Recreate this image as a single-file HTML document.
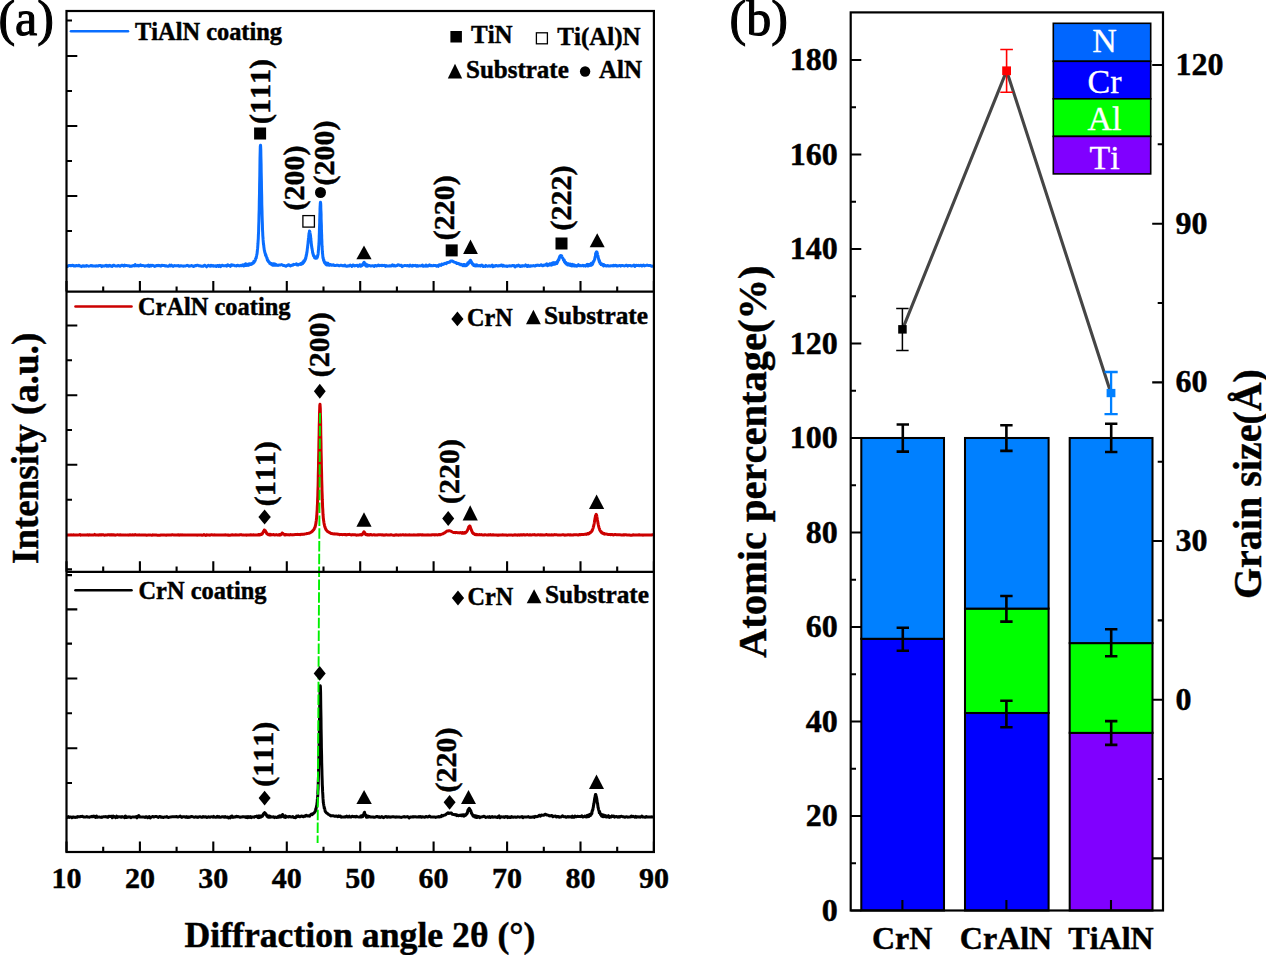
<!DOCTYPE html><html><head><meta charset="utf-8"><style>html,body{margin:0;padding:0;background:#fff;width:1266px;height:955px;overflow:hidden;position:relative}</style></head><body><svg width="1266" height="955" viewBox="0 0 1266 955" style="position:absolute;left:0;top:0;font-kerning:none">
<style>text{stroke:#000;stroke-width:0.45px}text.w{stroke:#fff;stroke-width:0.3px}</style>
<rect width="1266" height="955" fill="#fff"/>
<path d="M66.5,266.3 67.4,266.4 68.3,265.8 69.1,265.5 70.0,265.4 70.9,265.8 71.8,265.4 72.7,265.2 73.5,265.9 74.4,265.8 75.3,266.0 76.2,265.4 77.1,265.8 78.0,265.8 78.8,265.2 79.7,266.0 80.6,265.9 81.5,266.7 82.4,265.9 83.2,265.7 84.1,266.3 85.0,265.9 85.9,266.2 86.8,265.6 87.6,265.9 88.5,266.2 89.4,266.1 90.3,265.8 91.2,265.4 92.1,266.0 92.9,265.8 93.8,266.1 94.7,265.9 95.6,266.2 96.5,265.8 97.3,265.9 98.2,266.1 99.1,265.4 100.0,265.6 100.9,265.6 101.7,266.6 102.6,265.8 103.5,266.0 104.4,266.0 105.3,265.7 106.1,265.2 107.0,266.2 107.9,265.6 108.8,266.1 109.7,265.3 110.6,265.6 111.4,266.3 112.3,266.4 113.2,265.3 114.1,265.3 115.0,265.8 115.8,266.1 116.7,265.9 117.6,265.9 118.5,265.4 119.4,266.0 120.2,266.2 121.1,265.6 122.0,265.2 122.9,265.5 123.8,266.1 124.7,265.1 125.5,265.7 126.4,265.4 127.3,265.7 128.2,265.7 129.1,265.8 129.9,266.4 130.8,266.0 131.7,266.3 132.6,265.7 133.5,265.6 134.3,265.9 135.2,264.6 136.1,265.8 137.0,265.8 137.9,265.3 138.8,266.0 139.6,265.6 140.5,264.8 141.4,265.7 142.3,265.4 143.2,265.6 144.0,265.7 144.9,266.3 145.8,265.8 146.7,265.8 147.6,265.9 148.4,265.1 149.3,266.3 150.2,265.3 151.1,266.0 152.0,265.3 152.8,265.4 153.7,265.6 154.6,266.5 155.5,266.1 156.4,265.5 157.3,265.7 158.1,265.3 159.0,265.8 159.9,265.5 160.8,266.1 161.7,265.2 162.5,265.6 163.4,265.4 164.3,265.5 165.2,266.1 166.1,265.8 166.9,266.0 167.8,266.2 168.7,266.2 169.6,265.2 170.5,266.0 171.4,265.1 172.2,265.7 173.1,266.5 174.0,265.7 174.9,265.6 175.8,265.8 176.6,265.8 177.5,265.8 178.4,265.5 179.3,266.2 180.2,266.1 181.0,265.7 181.9,265.9 182.8,266.0 183.7,266.2 184.6,265.9 185.4,266.0 186.3,265.7 187.2,265.3 188.1,265.6 189.0,266.2 189.9,266.1 190.7,265.8 191.6,265.5 192.5,265.9 193.4,266.4 194.3,266.3 195.1,265.5 196.0,265.7 196.9,265.2 197.8,265.3 198.7,265.8 199.5,265.7 200.4,266.1 201.3,266.2 202.2,266.1 203.1,266.3 204.0,265.5 204.8,265.3 205.7,265.9 206.6,266.8 207.5,265.9 208.4,265.3 209.2,265.8 210.1,266.3 211.0,265.3 211.9,266.0 212.8,265.5 213.6,266.2 214.5,266.0 215.4,265.8 216.3,266.5 217.2,265.5 218.0,265.4 218.9,266.4 219.8,265.3 220.7,266.6 221.6,265.6 222.5,265.2 223.3,265.7 224.2,265.7 225.1,265.7 226.0,265.6 226.9,266.1 227.7,264.7 228.6,265.4 229.5,265.5 230.4,266.3 231.3,264.8 232.1,265.4 233.0,265.1 233.9,265.3 234.8,265.8 235.7,265.7 236.6,266.0 237.4,265.2 238.3,265.5 239.2,265.9 240.1,265.7 241.0,265.2 241.8,265.7 242.7,264.9 243.5,265.9 243.6,265.2 243.7,265.1 243.9,265.3 244.0,265.5 244.2,265.8 244.3,265.1 244.5,265.0 244.6,265.3 244.8,264.7 244.9,264.4 245.1,265.4 245.2,264.9 245.4,265.5 245.5,264.6 245.7,263.8 245.8,265.1 246.0,265.0 246.1,265.6 246.2,265.1 246.4,265.0 246.5,265.1 246.7,264.7 246.8,264.9 247.0,264.3 247.1,265.0 247.3,264.5 247.4,264.6 247.6,265.0 247.7,265.1 247.9,264.3 248.0,265.5 248.2,264.4 248.3,265.0 248.4,265.0 248.6,264.7 248.7,264.6 248.9,265.2 249.0,264.8 249.2,264.6 249.3,263.7 249.5,264.1 249.6,264.8 249.8,264.4 249.9,263.9 250.1,264.0 250.2,264.1 250.4,264.4 250.5,264.2 250.6,264.4 250.8,263.7 250.9,264.3 251.1,263.7 251.2,263.7 251.4,264.4 251.5,263.7 251.7,263.6 251.8,263.5 252.0,263.3 252.1,264.0 252.3,263.9 252.4,263.5 252.6,263.2 252.7,263.5 252.9,262.9 253.0,263.0 253.1,262.9 253.3,262.6 253.4,263.1 253.6,263.0 253.7,262.7 253.9,261.3 254.0,262.6 254.2,262.0 254.3,261.3 254.5,261.3 254.6,261.5 254.8,261.3 254.9,260.9 255.1,260.4 255.2,260.0 255.3,260.1 255.5,259.3 255.6,258.7 255.8,258.4 255.9,258.1 256.1,257.8 256.2,258.1 256.4,256.1 256.5,256.2 256.7,255.2 256.8,254.6 257.0,254.2 257.1,253.2 257.3,251.5 257.4,250.1 257.6,248.4 257.7,247.3 257.8,245.9 258.0,243.2 258.1,241.1 258.3,238.3 258.4,234.8 258.6,231.3 258.7,226.4 258.9,221.0 259.0,215.1 259.2,209.4 259.3,201.5 259.5,193.4 259.6,185.0 259.8,175.2 259.9,167.1 260.0,158.3 260.2,150.9 260.3,146.2 260.5,145.2 260.6,145.6 260.8,149.8 260.9,156.2 261.1,163.8 261.2,172.0 261.4,180.7 261.5,188.6 261.7,196.5 261.8,204.2 262.0,210.3 262.1,215.6 262.3,221.5 262.4,224.4 262.5,229.1 262.7,232.6 262.8,235.6 263.0,237.8 263.1,239.7 263.3,242.0 263.4,243.3 263.6,245.0 263.7,244.9 263.9,247.3 264.0,247.8 264.2,249.4 264.3,250.1 264.5,250.8 264.6,251.0 264.7,252.0 264.9,252.2 265.0,253.0 265.2,253.4 265.3,253.6 265.5,255.2 265.6,255.2 265.8,254.5 265.9,256.1 266.1,255.6 266.2,256.5 266.4,256.8 266.5,257.2 266.7,257.9 266.8,258.0 267.0,257.9 267.1,258.8 267.2,259.3 267.4,260.2 267.5,259.7 267.7,259.7 267.8,260.3 268.0,261.0 268.1,260.6 268.3,260.9 268.4,261.7 268.6,261.7 268.7,262.0 268.9,261.8 269.0,261.9 269.2,262.3 269.3,262.6 269.4,262.6 269.6,263.1 269.7,263.3 269.9,263.4 270.0,263.5 270.2,263.0 270.3,263.1 270.5,263.9 270.6,263.7 270.8,263.8 270.9,263.4 271.1,263.8 271.2,263.7 271.4,263.7 271.5,263.8 271.6,263.5 271.8,264.2 271.9,264.7 272.1,264.0 272.2,264.3 272.4,263.9 272.5,264.6 272.7,265.1 272.8,263.9 273.0,264.4 273.1,265.1 273.3,264.7 273.4,264.6 273.6,263.8 273.7,264.5 273.9,265.0 274.0,265.2 274.1,264.9 274.3,264.5 274.4,264.4 274.6,264.0 274.7,264.3 274.9,265.2 275.0,264.7 275.2,264.3 275.3,265.3 275.5,264.2 275.6,265.3 275.8,264.7 275.9,265.0 276.2,265.2 277.1,265.1 278.0,265.5 278.8,265.1 279.7,265.0 280.6,264.9 281.5,264.6 282.4,264.9 283.3,265.6 284.1,265.5 285.0,265.8 285.9,266.3 286.8,265.5 287.7,265.4 288.5,264.7 289.4,265.1 290.3,266.0 291.2,265.4 292.1,265.1 292.9,265.2 293.8,264.3 294.7,264.6 295.6,264.4 296.5,263.9 297.3,265.0 298.2,264.9 299.1,264.3 300.0,264.3 300.7,263.5 300.8,264.1 300.9,264.2 300.9,264.5 301.0,264.4 301.1,264.0 301.2,263.7 301.2,263.4 301.3,263.4 301.4,263.9 301.5,263.9 301.5,263.6 301.6,264.2 301.7,263.8 301.8,263.5 301.8,263.4 301.9,263.4 302.0,263.0 302.0,262.9 302.1,263.4 302.2,263.0 302.3,263.1 302.3,263.7 302.4,263.0 302.5,263.6 302.6,263.0 302.6,263.6 302.7,263.1 302.8,262.2 302.9,263.3 302.9,262.7 303.0,261.9 303.1,262.7 303.1,262.6 303.2,262.0 303.3,262.2 303.4,262.6 303.4,262.9 303.5,262.7 303.6,262.7 303.7,262.5 303.7,261.0 303.8,261.6 303.9,261.9 304.0,260.7 304.0,262.0 304.1,261.9 304.2,261.1 304.3,261.2 304.3,260.9 304.4,261.1 304.5,261.0 304.5,260.9 304.6,260.4 304.7,260.8 304.8,260.4 304.8,260.7 304.9,260.3 305.0,259.5 305.1,259.3 305.1,259.7 305.2,259.3 305.3,259.5 305.4,259.5 305.4,259.0 305.5,258.1 305.6,258.0 305.6,258.5 305.7,257.6 305.8,258.3 305.9,257.5 305.9,257.5 306.0,256.6 306.1,256.7 306.2,255.2 306.2,256.0 306.3,256.0 306.4,255.0 306.5,254.7 306.5,254.6 306.6,254.3 306.7,253.5 306.7,253.7 306.8,252.3 306.9,252.9 307.0,251.5 307.0,251.2 307.1,251.5 307.2,250.1 307.3,249.3 307.3,249.4 307.4,248.4 307.5,247.7 307.6,247.3 307.6,246.6 307.7,245.9 307.8,245.2 307.8,245.6 307.9,244.0 308.0,243.9 308.1,242.3 308.1,242.3 308.2,240.9 308.3,240.5 308.4,240.2 308.4,239.0 308.5,237.7 308.6,237.6 308.7,237.0 308.7,236.7 308.8,235.4 308.9,235.1 308.9,234.6 309.0,233.4 309.1,233.5 309.2,232.8 309.2,232.9 309.3,232.4 309.4,232.1 309.5,231.0 309.5,231.8 309.6,231.7 309.7,231.4 309.8,231.7 309.8,231.5 309.9,232.3 310.0,232.8 310.1,233.1 310.1,233.0 310.2,234.4 310.3,234.5 310.3,234.3 310.4,235.2 310.5,235.2 310.6,236.4 310.6,237.4 310.7,238.3 310.8,238.3 310.9,238.4 310.9,239.7 311.0,241.0 311.1,241.2 311.2,242.3 311.2,242.8 311.3,243.7 311.4,244.0 311.4,244.1 311.5,245.2 311.6,246.6 311.7,246.0 311.7,246.0 311.8,248.1 311.9,248.0 312.0,248.1 312.0,248.6 312.1,248.7 312.2,250.0 312.3,250.2 312.3,250.4 312.4,250.8 312.5,251.2 312.5,252.2 312.6,252.1 312.7,253.0 312.8,252.5 312.8,252.9 312.9,253.2 313.0,253.5 313.1,253.9 313.1,254.6 313.2,254.9 313.3,254.3 313.4,255.4 313.4,255.1 313.5,255.9 313.6,255.4 313.6,255.3 313.7,256.1 313.8,256.2 313.9,256.0 313.9,256.3 314.0,256.5 314.1,256.7 314.2,256.0 314.2,256.3 314.3,256.9 314.4,257.1 314.5,256.8 314.5,256.4 314.6,257.8 314.7,257.2 314.7,257.0 314.8,258.1 314.9,258.0 315.0,258.0 315.0,257.9 315.1,257.9 315.2,257.3 315.3,257.7 315.3,257.9 315.4,258.1 315.5,258.0 315.6,257.4 315.6,257.6 315.7,257.8 315.8,257.8 315.9,257.6 315.9,257.2 316.0,257.4 316.1,258.0 316.1,257.9 316.2,258.1 316.3,257.1 316.4,257.7 316.4,258.2 316.5,257.0 316.6,257.3 316.7,257.0 316.7,258.1 316.8,257.6 316.9,257.3 317.0,257.5 317.0,257.3 317.1,257.6 317.2,257.6 317.2,257.4 317.3,257.0 317.4,257.0 317.5,256.8 317.5,256.8 317.6,255.4 317.7,256.0 317.8,255.6 317.8,255.4 317.9,254.9 318.0,254.6 318.1,254.4 318.1,253.8 318.2,253.2 318.3,252.2 318.3,251.4 318.4,250.9 318.5,249.7 318.6,249.3 318.6,248.2 318.7,246.7 318.8,245.5 318.9,244.7 318.9,243.3 319.0,242.8 319.1,240.6 319.2,238.1 319.2,236.3 319.3,234.0 319.4,231.9 319.4,229.8 319.5,227.5 319.6,224.7 319.7,222.7 319.7,220.0 319.8,217.8 319.9,213.9 320.0,212.2 320.0,209.4 320.1,206.7 320.2,205.3 320.3,203.2 320.3,202.7 320.4,203.1 320.5,202.3 320.6,202.8 320.6,203.3 320.7,203.5 320.8,205.9 320.8,207.8 320.9,210.2 321.0,212.0 321.1,214.3 321.1,218.6 321.2,221.0 321.3,223.3 321.4,225.7 321.4,228.6 321.5,230.5 321.6,233.8 321.7,235.7 321.7,237.8 321.8,239.7 321.9,241.7 321.9,243.6 322.0,245.0 322.1,247.0 322.2,248.1 322.2,249.3 322.3,250.1 322.4,252.0 322.5,253.0 322.5,253.7 322.6,253.5 322.7,254.8 322.8,256.0 322.8,256.2 322.9,257.3 323.0,257.1 323.0,258.0 323.1,258.3 323.2,257.5 323.3,258.7 323.3,259.1 323.4,259.2 323.5,259.4 323.6,260.6 323.6,260.2 323.7,260.7 323.8,260.1 323.9,260.0 323.9,260.8 324.0,261.3 324.1,261.0 324.1,261.7 324.2,261.9 324.3,261.6 324.4,261.8 324.4,261.7 324.5,262.5 324.6,262.9 324.7,262.5 324.7,262.2 324.8,262.2 324.9,262.5 325.0,263.0 325.1,262.5 325.2,263.6 325.4,262.6 325.5,263.2 325.7,263.9 325.8,264.2 326.0,263.4 326.1,264.0 326.3,264.8 326.4,264.3 326.6,263.0 326.7,264.1 326.9,265.0 327.0,263.6 327.2,264.5 327.3,263.4 327.5,264.9 327.6,264.0 327.7,264.7 327.9,264.8 328.0,263.3 328.2,263.9 328.3,264.7 328.5,264.0 328.6,264.6 328.8,264.3 328.9,265.2 329.1,264.5 329.2,264.4 329.4,265.0 329.5,265.3 329.7,264.7 329.8,264.9 329.9,265.0 330.1,264.7 330.8,264.5 331.7,265.3 332.6,265.0 333.5,264.7 334.4,265.6 335.2,265.5 336.1,265.4 337.0,265.1 337.9,265.3 338.8,265.7 339.6,265.7 340.5,265.2 341.4,265.2 342.3,265.7 343.2,265.6 344.0,265.9 344.9,265.1 345.8,266.0 346.7,266.3 347.6,266.0 348.5,265.7 349.3,266.0 350.2,265.1 351.1,265.5 352.0,266.5 352.9,265.0 353.7,265.2 354.6,266.0 355.5,265.4 356.4,265.4 357.3,265.2 358.1,266.3 359.0,265.4 359.6,265.5 359.8,264.9 359.9,265.9 360.1,265.6 360.2,265.8 360.3,266.2 360.5,265.6 360.6,265.1 360.8,265.2 360.9,265.6 361.1,266.1 361.2,265.0 361.4,265.4 361.5,265.4 361.7,265.7 361.8,265.0 362.0,265.4 362.1,265.5 362.3,265.1 362.4,265.0 362.5,265.1 362.7,265.0 362.8,265.0 363.0,263.9 363.1,264.6 363.3,263.8 363.4,263.2 363.6,263.3 363.7,262.8 363.9,263.2 364.0,263.6 364.2,262.3 364.3,262.9 364.5,263.8 364.6,263.6 364.8,264.2 364.9,263.6 365.0,264.3 365.2,263.5 365.3,264.4 365.5,265.2 365.6,265.5 365.8,265.8 365.9,265.2 366.1,265.0 366.2,265.2 366.4,264.7 366.5,266.0 366.7,266.0 366.8,265.2 367.0,266.3 367.1,265.0 367.2,265.8 367.4,265.3 367.5,264.9 367.7,265.8 367.8,265.2 368.0,266.1 368.1,265.3 368.3,265.7 368.4,265.5 368.7,265.7 369.6,265.4 370.5,266.0 371.4,265.9 372.2,265.7 373.1,265.7 374.0,266.5 374.9,265.4 375.8,265.5 376.6,266.0 377.5,265.7 378.4,265.1 379.3,265.7 380.2,265.6 381.1,265.3 381.9,265.8 382.8,265.3 383.7,265.6 384.6,265.3 385.5,266.4 386.3,265.6 387.2,265.9 388.1,265.9 389.0,266.0 389.9,265.7 390.7,266.1 391.6,265.8 392.5,264.8 393.4,265.9 394.3,265.2 395.2,266.1 396.0,265.8 396.9,265.6 397.8,264.7 398.7,264.9 399.6,265.3 400.4,265.6 401.3,265.2 402.2,266.6 403.1,265.9 404.0,265.7 404.8,265.4 405.7,265.6 406.6,265.7 407.5,265.6 408.4,265.7 409.2,266.1 410.1,265.1 411.0,265.9 411.9,266.2 412.8,265.2 413.7,265.7 414.5,265.6 415.4,265.3 416.3,266.1 417.2,265.6 418.1,266.2 418.9,265.9 419.8,265.7 420.7,265.9 421.6,265.6 422.5,265.1 423.3,266.3 424.2,265.9 425.1,266.2 426.0,265.0 426.9,266.2 427.8,266.1 428.6,265.8 429.5,264.9 430.4,265.8 431.3,265.5 432.2,265.7 433.0,265.8 433.9,265.3 434.8,265.6 435.7,265.6 436.6,266.2 437.4,265.5 438.3,266.3 439.2,264.8 440.1,265.0 441.0,265.4 441.8,264.0 442.7,264.6 443.6,264.2 444.5,263.5 445.4,263.3 446.3,263.7 447.1,262.5 448.0,262.5 448.9,262.3 449.8,262.3 450.7,260.9 451.5,261.0 452.4,261.1 453.3,261.6 454.2,262.1 455.1,262.5 455.9,262.4 456.8,263.5 457.7,263.2 458.6,263.9 459.5,263.7 460.4,264.7 461.2,264.3 462.1,265.3 462.8,265.3 463.0,265.8 463.1,264.9 463.3,264.6 463.4,265.4 463.6,265.2 463.7,264.9 463.9,264.6 464.0,265.5 464.2,264.4 464.3,265.0 464.5,265.6 464.6,265.1 464.8,265.4 464.9,265.4 465.1,265.5 465.2,265.6 465.3,265.5 465.5,265.0 465.6,264.7 465.8,265.1 465.9,264.9 466.1,265.3 466.2,265.6 466.4,265.4 466.5,264.7 466.7,265.0 466.8,264.9 467.0,264.6 467.1,265.2 467.3,264.8 467.4,264.6 467.5,263.8 467.7,263.1 467.8,263.7 468.0,264.2 468.1,263.5 468.3,263.3 468.4,263.0 468.6,263.1 468.7,262.6 468.9,263.1 469.0,262.1 469.2,261.8 469.3,262.2 469.5,261.7 469.6,261.5 469.8,261.2 469.9,260.9 470.0,261.0 470.2,261.0 470.3,260.9 470.5,260.2 470.6,261.6 470.8,261.0 470.9,261.2 471.1,261.5 471.2,261.6 471.4,261.8 471.5,262.4 471.7,263.0 471.8,262.8 472.0,263.4 472.1,262.9 472.2,263.9 472.4,263.4 472.5,264.3 472.7,263.9 472.8,264.1 473.0,264.0 473.1,264.2 473.3,264.7 473.4,264.5 473.6,264.9 473.7,265.5 473.9,264.8 474.0,265.1 474.2,265.2 474.3,265.0 474.4,265.3 474.6,265.5 474.7,265.8 474.9,265.1 475.0,265.4 475.2,265.4 475.3,266.0 475.5,265.1 475.6,265.6 475.8,265.8 475.9,265.8 476.1,265.3 476.2,265.2 476.4,264.8 476.5,265.4 476.7,265.5 476.8,265.0 476.9,265.9 477.1,265.7 477.2,265.5 477.4,265.4 477.5,265.8 478.0,265.5 478.9,265.9 479.7,265.5 480.6,266.1 481.5,265.1 482.4,265.3 483.3,266.5 484.1,266.2 485.0,266.4 485.9,265.4 486.8,266.0 487.7,266.2 488.5,266.1 489.4,265.7 490.3,266.3 491.2,265.9 492.1,265.2 493.0,266.8 493.8,265.8 494.7,266.3 495.6,265.5 496.5,265.4 497.4,266.1 498.2,266.1 499.1,265.5 500.0,265.9 500.9,265.2 501.8,264.9 502.6,266.2 503.5,265.3 504.4,266.1 505.3,266.2 506.2,265.9 507.1,266.4 507.9,265.9 508.8,265.9 509.7,265.8 510.6,265.9 511.5,265.9 512.3,265.4 513.2,265.7 514.1,265.6 515.0,266.9 515.9,266.3 516.7,265.5 517.6,266.0 518.5,265.1 519.4,265.8 520.3,266.5 521.1,265.8 522.0,266.3 522.9,265.6 523.8,265.9 524.7,265.9 525.6,264.9 526.4,265.4 527.3,266.5 528.2,265.4 529.1,266.2 530.0,266.4 530.8,265.7 531.7,266.1 532.6,265.9 533.5,265.5 534.4,265.9 535.2,265.9 536.1,265.3 537.0,265.5 537.9,265.1 538.8,265.5 539.7,265.5 540.5,265.1 541.4,264.7 542.3,265.7 543.2,265.8 544.1,264.9 544.9,265.2 545.8,264.8 546.7,263.9 547.5,265.7 547.6,264.9 547.7,264.2 547.8,265.3 547.9,265.1 548.1,265.3 548.2,265.0 548.4,264.9 548.5,265.3 548.5,264.6 548.7,264.8 548.8,264.2 549.0,264.2 549.1,264.7 549.3,264.7 549.3,263.9 549.4,264.7 549.6,264.9 549.7,264.0 549.9,264.3 550.0,265.1 550.2,264.1 550.2,264.6 550.3,264.7 550.4,264.5 550.6,264.4 550.7,264.6 550.9,264.4 551.0,264.3 551.1,263.7 551.2,264.4 551.3,263.9 551.5,264.8 551.6,265.1 551.8,264.6 551.9,263.3 552.0,264.5 552.1,264.2 552.2,263.6 552.4,263.6 552.5,264.5 552.6,263.7 552.8,263.9 552.9,264.0 552.9,264.3 553.1,262.8 553.2,264.4 553.4,263.5 553.5,263.7 553.7,264.0 553.7,263.9 553.8,262.8 554.0,264.0 554.1,263.6 554.3,263.2 554.4,263.4 554.6,262.9 554.6,263.9 554.7,264.1 554.8,263.2 555.0,263.3 555.1,262.8 555.3,263.1 555.4,262.9 555.5,263.3 555.6,263.9 555.7,263.6 555.9,263.5 556.0,262.6 556.2,263.3 556.3,262.6 556.4,262.4 556.5,263.0 556.6,262.6 556.8,263.5 556.9,262.4 557.1,262.1 557.2,262.4 557.3,261.5 557.3,262.2 557.5,262.3 557.6,261.4 557.8,261.1 557.9,261.5 558.1,260.3 558.2,260.8 558.2,260.3 558.4,260.3 558.5,259.6 558.7,259.8 558.8,259.5 559.0,259.6 559.0,258.6 559.1,258.7 559.3,257.5 559.4,257.5 559.5,257.6 559.7,256.6 559.8,256.8 559.9,256.3 560.0,256.7 560.1,256.5 560.3,255.9 560.4,256.2 560.6,255.6 560.7,255.8 560.8,256.0 560.9,256.1 561.0,256.1 561.2,256.7 561.3,255.9 561.5,256.2 561.6,255.7 561.7,256.9 561.8,256.2 561.9,256.6 562.0,256.9 562.2,257.5 562.3,257.5 562.5,257.7 562.6,258.0 562.6,258.0 562.8,258.4 562.9,258.3 563.1,258.7 563.2,258.7 563.4,259.8 563.4,260.0 563.5,260.0 563.7,260.1 563.8,260.0 564.0,260.7 564.1,260.1 564.2,259.9 564.3,260.6 564.4,261.8 564.5,261.5 564.7,262.2 564.8,261.5 565.0,262.4 565.1,262.8 565.2,262.6 565.3,262.4 565.4,262.9 565.6,262.5 565.7,263.5 565.9,262.5 566.0,262.8 566.1,263.1 566.2,262.9 566.3,264.0 566.5,263.7 566.6,263.2 566.7,264.3 566.9,264.3 567.0,263.6 567.0,264.4 567.2,264.4 567.3,263.8 567.5,263.8 567.6,264.3 567.8,264.7 567.8,264.9 567.9,264.9 568.1,264.1 568.2,263.7 568.4,263.8 568.5,265.1 568.7,265.0 568.7,265.0 568.8,264.6 568.9,264.7 569.1,264.9 569.2,264.9 569.4,264.8 569.5,264.4 569.6,264.2 569.7,264.9 569.8,264.8 570.0,265.4 570.1,264.5 570.3,264.1 570.4,264.2 570.5,264.9 570.6,265.6 570.7,264.9 570.9,264.7 571.0,265.2 571.2,265.7 571.3,265.5 571.4,265.4 571.4,265.5 571.6,265.0 571.7,265.2 571.9,265.3 572.0,265.9 572.2,264.3 572.3,265.0 572.3,265.3 572.5,265.1 572.6,265.2 572.8,265.1 572.9,264.9 573.1,265.5 573.1,265.8 573.2,265.1 573.4,265.5 573.5,265.7 573.6,265.0 573.8,265.3 573.9,264.8 574.0,266.0 574.9,266.1 575.8,265.3 576.7,266.2 577.5,265.8 578.4,264.7 579.3,265.7 580.2,265.6 581.1,265.7 581.9,265.7 582.8,265.3 583.7,265.9 584.6,265.5 585.5,266.1 586.3,265.3 587.2,264.3 588.1,266.0 588.4,265.4 588.6,264.4 588.7,264.9 588.8,264.8 589.0,265.5 589.1,264.8 589.3,265.5 589.4,264.8 589.6,265.4 589.7,264.7 589.9,264.4 590.0,265.1 590.2,264.8 590.3,265.0 590.5,264.1 590.6,264.3 590.8,264.5 590.9,265.4 591.0,264.7 591.2,263.8 591.3,263.2 591.5,265.1 591.6,264.4 591.8,263.7 591.9,264.5 592.1,264.3 592.2,264.7 592.4,263.8 592.5,263.4 592.7,263.8 592.8,262.7 593.0,262.9 593.1,262.4 593.3,262.3 593.4,261.8 593.5,261.4 593.7,261.2 593.8,261.5 594.0,260.9 594.1,260.5 594.3,260.2 594.4,259.8 594.6,259.2 594.7,259.3 594.9,258.0 595.0,257.4 595.2,256.5 595.3,256.5 595.5,256.0 595.6,253.6 595.7,254.6 595.9,253.3 596.0,253.4 596.2,252.9 596.3,252.0 596.5,251.8 596.6,252.2 596.8,253.4 596.9,252.0 597.1,252.7 597.2,253.1 597.4,253.6 597.5,254.7 597.7,255.7 597.8,255.4 598.0,256.2 598.1,256.6 598.2,257.9 598.4,257.9 598.5,258.8 598.7,259.0 598.8,260.0 599.0,260.0 599.1,260.2 599.3,261.7 599.4,260.5 599.6,261.7 599.7,261.9 599.9,261.9 600.0,263.4 600.2,263.0 600.3,262.9 600.4,262.9 600.6,263.6 600.7,263.6 600.9,263.7 601.0,263.6 601.2,264.6 601.3,264.2 601.5,264.2 601.6,263.8 601.8,264.1 601.9,264.8 602.1,264.2 602.2,264.9 602.4,264.6 602.5,264.9 602.6,264.9 602.8,264.6 602.9,264.7 603.1,264.9 603.2,265.2 603.4,265.9 603.5,265.3 603.7,264.5 603.8,265.9 604.0,265.0 604.1,264.8 604.3,265.2 604.4,265.1 604.6,265.3 604.7,265.2 604.9,265.2 605.7,265.8 606.6,266.1 607.5,265.5 608.4,266.1 609.3,265.9 610.1,266.0 611.0,265.7 611.9,265.7 612.8,265.9 613.7,265.3 614.5,265.7 615.4,265.2 616.3,266.0 617.2,265.8 618.1,265.9 618.9,265.6 619.8,265.4 620.7,266.1 621.6,265.5 622.5,265.6 623.4,265.7 624.2,265.9 625.1,265.8 626.0,265.3 626.9,265.3 627.8,266.1 628.6,265.6 629.5,265.6 630.4,265.4 631.3,266.1 632.2,265.9 633.0,265.5 633.9,265.1 634.8,266.5 635.7,265.5 636.6,265.3 637.5,265.6 638.3,265.3 639.2,265.8 640.1,265.5 641.0,265.3 641.9,266.0 642.7,265.4 643.6,265.0 644.5,265.9 645.4,265.6 646.3,265.3 647.1,265.1 648.0,265.5 648.9,265.5 649.8,265.6 650.7,265.6 651.6,266.3 652.4,266.2 653.3,265.9" fill="none" stroke="#0A6EFF" stroke-width="3.0" stroke-linejoin="round"/>
<path d="M66.5,535.3 67.4,534.9 68.3,535.1 69.1,535.0 70.0,535.1 70.9,534.8 71.8,534.9 72.7,534.9 73.5,534.8 74.4,534.9 75.3,534.9 76.2,535.0 77.1,534.9 78.0,535.1 78.8,534.9 79.7,534.5 80.6,535.2 81.5,534.9 82.4,534.9 83.2,535.0 84.1,535.0 85.0,535.0 85.9,534.9 86.8,535.0 87.6,534.8 88.5,535.2 89.4,534.8 90.3,535.0 91.2,535.0 92.1,535.0 92.9,535.0 93.8,535.1 94.7,534.4 95.6,535.0 96.5,535.0 97.3,534.9 98.2,535.2 99.1,534.8 100.0,535.0 100.9,534.7 101.7,535.0 102.6,534.7 103.5,534.7 104.4,535.3 105.3,535.1 106.1,535.0 107.0,535.0 107.9,534.8 108.8,534.8 109.7,535.0 110.6,534.7 111.4,535.0 112.3,534.7 113.2,535.0 114.1,534.8 115.0,535.2 115.8,535.1 116.7,534.9 117.6,534.7 118.5,534.9 119.4,535.0 120.2,534.8 121.1,535.0 122.0,535.1 122.9,535.0 123.8,534.9 124.7,535.1 125.5,534.9 126.4,535.1 127.3,534.9 128.2,535.2 129.1,534.9 129.9,534.8 130.8,535.0 131.7,534.9 132.6,534.8 133.5,535.0 134.3,535.1 135.2,534.6 136.1,535.0 137.0,534.9 137.9,535.0 138.8,535.1 139.6,534.8 140.5,535.1 141.4,534.9 142.3,535.0 143.2,534.9 144.0,534.9 144.9,534.9 145.8,535.0 146.7,535.3 147.6,535.1 148.4,535.1 149.3,535.1 150.2,534.9 151.1,535.1 152.0,535.3 152.8,534.8 153.7,535.1 154.6,535.1 155.5,535.0 156.4,535.1 157.3,535.2 158.1,535.3 159.0,535.2 159.9,535.2 160.8,535.0 161.7,535.1 162.5,535.0 163.4,535.0 164.3,534.9 165.2,535.1 166.1,535.2 166.9,535.0 167.8,535.0 168.7,535.1 169.6,535.0 170.5,535.1 171.4,535.0 172.2,534.8 173.1,534.8 174.0,535.1 174.9,535.1 175.8,535.1 176.6,535.0 177.5,535.0 178.4,534.7 179.3,535.2 180.2,534.8 181.0,535.1 181.9,534.8 182.8,534.9 183.7,535.0 184.6,534.9 185.4,534.9 186.3,535.1 187.2,535.1 188.1,535.0 189.0,534.9 189.9,534.9 190.7,534.9 191.6,534.9 192.5,535.0 193.4,535.1 194.3,535.0 195.1,534.9 196.0,534.9 196.9,535.2 197.8,535.0 198.7,535.0 199.5,535.0 200.4,535.1 201.3,535.0 202.2,535.2 203.1,535.1 204.0,534.6 204.8,535.0 205.7,535.4 206.6,534.8 207.5,535.0 208.4,535.1 209.2,535.0 210.1,535.2 211.0,534.8 211.9,534.8 212.8,534.9 213.6,534.9 214.5,534.8 215.4,535.1 216.3,535.0 217.2,535.0 218.0,534.9 218.9,535.0 219.8,535.0 220.7,534.9 221.6,535.0 222.5,535.0 223.3,535.0 224.2,535.1 225.1,534.8 226.0,534.9 226.9,534.9 227.7,535.2 228.6,535.0 229.5,535.3 230.4,535.2 231.3,534.9 232.1,534.8 233.0,535.0 233.9,534.9 234.8,534.9 235.7,534.8 236.6,535.0 237.4,535.0 238.3,535.0 239.2,535.0 240.1,534.8 241.0,534.6 241.8,534.9 242.7,534.9 243.6,534.9 244.5,535.1 245.4,534.9 246.2,535.2 247.1,535.0 248.0,535.0 248.9,535.0 249.8,535.0 250.6,534.7 251.5,535.1 252.4,534.9 253.3,534.8 254.2,535.0 255.1,534.9 255.9,535.1 256.8,535.0 257.7,534.9 258.1,534.6 258.3,535.0 258.4,535.0 258.6,534.9 258.7,534.8 258.9,534.9 259.0,534.6 259.2,534.9 259.3,534.7 259.5,534.6 259.6,534.8 259.8,534.7 259.9,534.9 260.0,534.8 260.2,534.4 260.3,534.3 260.5,534.6 260.6,534.5 260.8,534.4 260.9,534.3 261.1,534.4 261.2,534.2 261.4,534.2 261.5,534.4 261.7,534.2 261.8,533.9 262.0,533.8 262.1,533.8 262.3,533.9 262.4,533.4 262.5,533.5 262.7,532.9 262.8,532.8 263.0,532.7 263.1,532.2 263.3,532.0 263.4,531.5 263.6,531.6 263.7,531.4 263.9,530.8 264.0,530.7 264.2,530.4 264.3,530.0 264.5,530.6 264.6,530.3 264.7,530.4 264.9,530.4 265.0,530.5 265.2,531.0 265.3,530.6 265.5,531.1 265.6,531.4 265.8,531.7 265.9,532.1 266.1,532.2 266.2,532.4 266.4,532.6 266.5,533.1 266.7,533.4 266.8,533.6 267.0,533.9 267.1,533.7 267.2,534.1 267.4,534.1 267.5,534.1 267.7,534.1 267.8,534.4 268.0,534.3 268.1,534.4 268.3,534.3 268.4,534.8 268.6,534.5 268.7,534.5 268.9,534.6 269.0,534.6 269.2,534.6 269.3,534.4 269.4,534.5 269.6,534.8 269.7,534.9 269.9,534.6 270.0,534.7 270.2,534.6 270.3,534.4 270.5,534.7 270.6,534.6 270.8,534.9 270.9,534.7 271.1,534.8 271.8,534.6 272.7,534.8 273.6,534.5 274.4,534.9 275.3,535.0 276.2,534.6 277.1,534.9 278.0,535.0 278.8,534.8 279.0,535.0 279.1,534.8 279.3,534.7 279.4,534.5 279.6,534.6 279.7,534.5 279.9,535.1 280.0,534.8 280.2,534.7 280.3,534.5 280.5,534.9 280.6,534.4 280.8,534.8 280.9,534.7 281.0,534.4 281.2,534.2 281.3,534.2 281.5,533.8 281.6,533.9 281.8,533.9 281.9,533.6 282.1,533.5 282.2,533.1 282.4,533.2 282.5,533.1 282.7,533.3 282.8,533.6 283.0,534.0 283.1,533.8 283.3,534.0 283.4,533.9 283.5,534.3 283.7,534.3 283.8,534.3 284.0,534.3 284.1,534.6 284.3,534.6 284.4,534.8 284.6,534.7 284.7,534.7 284.9,534.9 285.0,534.8 285.2,534.8 285.3,535.0 285.5,534.8 285.6,534.6 285.7,534.6 285.9,534.5 286.8,534.8 287.7,534.7 288.5,534.8 289.4,534.9 290.3,534.6 291.2,534.7 292.1,534.9 292.9,534.7 293.8,534.8 294.7,534.6 295.6,534.5 296.5,534.6 297.3,534.3 298.2,534.6 299.1,534.4 300.0,534.7 300.9,534.2 301.8,534.4 302.6,534.3 303.5,534.2 304.4,534.2 305.3,533.9 306.2,533.7 307.0,533.5 307.9,533.4 308.8,533.2 309.7,533.0 310.6,532.5 311.4,532.0 312.3,531.3 313.2,530.2 313.8,529.6 313.9,529.4 314.1,528.9 314.2,528.8 314.4,528.6 314.5,528.1 314.7,527.8 314.8,527.4 315.0,527.4 315.1,526.8 315.3,526.2 315.4,525.4 315.6,525.0 315.7,524.2 315.9,523.5 316.0,522.5 316.1,521.7 316.3,520.4 316.4,519.3 316.6,518.1 316.7,516.0 316.9,514.1 317.0,512.2 317.2,509.7 317.3,506.6 317.5,503.5 317.6,499.7 317.8,495.5 317.9,490.9 318.1,485.3 318.2,479.7 318.3,473.2 318.5,466.1 318.6,458.9 318.8,450.8 318.9,442.8 319.1,435.1 319.2,426.9 319.4,420.1 319.5,413.7 319.7,408.6 319.8,405.4 320.0,404.2 320.1,405.6 320.3,408.4 320.4,413.8 320.6,419.6 320.7,427.1 320.8,434.5 321.0,442.9 321.1,451.2 321.3,458.7 321.4,466.1 321.6,473.1 321.7,479.6 321.9,485.5 322.0,490.7 322.2,495.1 322.3,499.7 322.5,503.6 322.6,507.0 322.8,509.6 322.9,512.1 323.0,514.2 323.2,516.3 323.3,518.1 323.5,519.1 323.6,520.5 323.8,521.5 323.9,522.5 324.1,523.4 324.2,524.3 324.4,524.8 324.5,525.5 324.7,526.3 324.8,526.6 325.0,527.1 325.1,527.5 325.2,527.8 325.4,528.2 325.5,528.6 325.7,528.8 325.8,529.3 326.0,529.4 326.1,529.8 326.4,530.1 327.3,531.2 328.2,531.8 329.1,532.4 329.9,532.7 330.8,533.4 331.7,533.5 332.6,533.7 333.5,533.9 334.4,533.8 335.2,534.1 336.1,534.1 337.0,534.0 337.9,534.3 338.8,534.2 339.6,534.7 340.5,534.4 341.4,534.4 342.3,534.7 343.2,534.6 344.0,534.4 344.9,534.7 345.8,534.5 346.7,534.9 347.6,534.5 348.5,534.6 349.3,534.3 350.2,534.6 351.1,535.0 352.0,534.8 352.9,534.6 353.7,534.8 354.6,534.8 355.5,534.8 356.4,535.2 357.3,535.1 358.1,535.0 359.0,535.0 359.9,534.6 360.1,534.5 360.2,534.9 360.3,534.8 360.5,534.8 360.6,534.7 360.8,534.8 360.9,534.8 361.1,534.7 361.2,534.8 361.4,534.6 361.5,534.6 361.7,534.8 361.8,534.5 362.0,534.8 362.1,534.5 362.3,534.3 362.4,534.4 362.5,534.0 362.7,533.8 362.8,533.6 363.0,533.4 363.1,533.3 363.3,533.2 363.4,532.7 363.6,532.2 363.7,532.1 363.9,531.8 364.0,532.1 364.2,532.2 364.3,532.2 364.5,532.5 364.6,532.7 364.8,533.0 364.9,533.3 365.0,533.5 365.2,533.5 365.3,534.0 365.5,534.3 365.6,534.0 365.8,534.3 365.9,534.3 366.1,534.6 366.2,534.5 366.4,534.8 366.5,534.8 366.7,534.6 366.8,534.6 367.0,534.6 367.1,534.8 367.2,534.6 367.4,534.8 367.5,534.6 367.7,535.0 367.8,534.9 368.0,534.6 368.1,534.7 368.7,534.9 369.6,534.9 370.5,534.4 371.4,534.9 372.2,535.1 373.1,534.8 374.0,534.7 374.9,535.1 375.8,534.9 376.6,534.9 377.5,535.0 378.4,534.7 379.3,534.8 380.2,534.8 381.1,534.8 381.9,534.9 382.8,534.8 383.7,535.2 384.6,535.0 385.5,535.1 386.3,534.7 387.2,534.9 388.1,534.9 389.0,535.0 389.9,535.0 390.7,534.8 391.6,534.8 392.5,535.1 393.4,535.3 394.3,535.3 395.2,534.9 396.0,534.8 396.9,535.0 397.8,535.0 398.7,535.2 399.6,534.9 400.4,534.8 401.3,535.1 402.2,534.8 403.1,534.8 404.0,535.0 404.8,534.9 405.7,534.8 406.6,534.9 407.5,534.9 408.4,534.9 409.2,534.8 410.1,535.0 411.0,534.9 411.9,534.9 412.8,535.1 413.7,534.8 414.5,535.1 415.4,535.0 416.3,534.9 417.2,535.0 418.1,534.7 418.9,535.0 419.8,534.8 420.7,534.8 421.6,535.0 422.5,534.8 423.3,535.0 424.2,535.0 425.1,535.1 426.0,535.0 426.9,535.1 427.8,534.8 428.6,534.9 429.5,535.0 430.4,535.1 431.3,535.0 432.2,534.8 433.0,534.7 433.9,534.7 434.8,535.0 435.7,534.7 436.6,534.8 437.4,534.9 438.3,534.8 439.2,534.5 440.1,534.8 441.0,534.4 441.8,534.1 442.7,533.9 443.6,533.3 444.5,532.9 445.4,532.3 446.3,531.6 447.1,531.1 448.0,531.0 448.9,530.8 449.8,530.8 450.7,531.1 451.5,531.5 452.4,532.0 453.3,532.4 454.2,532.4 455.1,532.7 455.9,532.5 456.8,532.6 457.7,532.7 458.6,532.7 459.5,532.9 460.4,532.5 461.2,532.9 461.7,532.9 461.8,533.2 462.0,532.8 462.1,532.9 462.3,533.1 462.4,533.0 462.6,532.7 462.7,532.8 462.8,532.7 463.0,532.9 463.1,533.0 463.3,533.1 463.4,533.0 463.6,533.1 463.7,533.1 463.9,532.8 464.0,533.0 464.2,533.1 464.3,532.9 464.5,532.7 464.6,532.9 464.8,532.9 464.9,532.9 465.1,532.5 465.2,532.7 465.3,533.0 465.5,532.9 465.6,532.6 465.8,532.5 465.9,532.4 466.1,532.2 466.2,532.1 466.4,532.0 466.5,531.7 466.7,531.7 466.8,531.5 467.0,531.1 467.1,531.0 467.3,530.5 467.4,530.5 467.5,530.2 467.7,529.7 467.8,529.5 468.0,529.2 468.1,528.8 468.3,528.1 468.4,527.9 468.6,527.4 468.7,527.0 468.9,527.1 469.0,526.7 469.2,526.6 469.3,526.3 469.5,526.0 469.6,526.1 469.8,526.1 469.9,526.5 470.0,526.2 470.2,526.8 470.3,527.0 470.5,527.6 470.6,528.0 470.8,528.2 470.9,528.9 471.1,529.3 471.2,529.3 471.4,530.2 471.5,530.2 471.7,530.5 471.8,531.2 472.0,531.3 472.1,531.7 472.2,532.0 472.4,532.1 472.5,532.7 472.7,532.9 472.8,532.9 473.0,533.3 473.1,533.2 473.3,533.4 473.4,533.5 473.6,533.4 473.7,533.7 473.9,533.7 474.0,534.0 474.2,534.0 474.3,534.0 474.4,534.3 474.6,534.2 474.7,534.5 474.9,534.2 475.0,534.2 475.2,534.2 475.3,534.4 475.5,534.4 475.6,534.4 475.8,534.7 475.9,534.6 476.1,534.4 476.2,534.6 476.4,534.5 476.5,534.5 476.7,534.5 476.8,534.6 476.9,534.7 477.1,534.8 477.2,534.6 477.4,534.5 477.5,534.6 478.0,534.7 478.9,534.7 479.7,534.6 480.6,534.8 481.5,534.6 482.4,535.0 483.3,535.0 484.1,535.0 485.0,534.7 485.9,534.9 486.8,535.1 487.7,534.9 488.5,534.8 489.4,534.9 490.3,534.6 491.2,535.1 492.1,535.0 493.0,534.7 493.8,535.0 494.7,535.1 495.6,535.0 496.5,535.0 497.4,535.2 498.2,535.0 499.1,535.2 500.0,534.9 500.9,534.9 501.8,534.9 502.6,534.8 503.5,535.0 504.4,534.9 505.3,535.0 506.2,535.0 507.1,535.2 507.9,535.2 508.8,534.9 509.7,534.9 510.6,534.9 511.5,534.9 512.3,535.2 513.2,535.2 514.1,534.9 515.0,534.8 515.9,534.9 516.7,535.0 517.6,535.2 518.5,534.8 519.4,535.2 520.3,534.8 521.1,535.0 522.0,534.8 522.9,534.9 523.8,534.6 524.7,535.1 525.6,535.0 526.4,534.8 527.3,534.6 528.2,535.0 529.1,535.0 530.0,534.7 530.8,535.0 531.7,534.9 532.6,534.8 533.5,534.8 534.4,534.6 535.2,535.1 536.1,535.1 537.0,534.9 537.9,534.8 538.8,534.8 539.7,534.9 540.5,534.8 541.4,535.0 542.3,534.8 543.2,535.1 544.1,535.1 544.9,534.9 545.8,534.8 546.7,534.5 547.6,535.0 548.5,535.0 549.3,534.8 550.2,535.1 551.1,534.8 552.0,534.8 552.9,535.1 553.7,535.0 554.6,534.6 555.5,534.8 556.4,534.7 557.3,534.9 558.2,535.0 559.0,534.9 559.9,534.9 560.8,535.1 561.7,534.9 562.6,534.7 563.4,534.8 564.3,535.0 565.2,535.2 566.1,534.9 567.0,534.9 567.8,534.8 568.7,534.8 569.6,535.0 570.5,534.8 571.4,534.9 572.3,534.9 573.1,535.0 574.0,534.8 574.9,534.8 575.8,534.7 576.7,534.7 577.5,534.9 578.4,535.0 579.3,534.4 580.2,534.8 581.1,534.5 581.9,534.5 582.8,534.5 583.7,534.4 584.6,534.3 585.5,534.1 586.3,534.4 587.2,533.7 587.3,533.8 587.5,533.8 587.6,533.9 587.7,533.6 587.9,533.8 588.0,533.7 588.1,534.0 588.2,533.8 588.3,533.6 588.5,533.6 588.6,533.8 588.8,533.5 588.9,533.3 589.0,533.3 589.1,533.3 589.2,533.4 589.4,533.1 589.5,533.1 589.7,533.1 589.8,532.8 589.9,533.0 589.9,532.8 590.1,532.9 590.2,532.8 590.4,532.8 590.5,532.7 590.7,532.2 590.8,532.1 590.8,532.1 591.0,532.2 591.1,532.0 591.3,531.8 591.4,531.6 591.6,531.6 591.6,531.4 591.7,531.2 591.9,531.0 592.0,530.5 592.1,530.6 592.3,530.4 592.4,529.8 592.5,529.6 592.6,529.6 592.7,529.0 592.9,528.7 593.0,528.3 593.2,527.7 593.3,527.3 593.4,526.7 593.5,526.3 593.6,526.2 593.8,525.5 593.9,524.8 594.1,524.0 594.2,523.2 594.3,522.9 594.4,522.3 594.5,521.6 594.6,520.6 594.8,520.1 594.9,519.0 595.1,518.1 595.2,517.8 595.2,517.4 595.4,516.6 595.5,515.7 595.7,515.3 595.8,515.0 596.0,514.6 596.0,514.5 596.1,514.4 596.3,514.6 596.4,515.1 596.6,515.1 596.7,515.6 596.8,516.3 596.9,516.6 597.0,517.4 597.1,518.4 597.3,519.0 597.4,519.8 597.6,520.9 597.7,521.7 597.8,521.7 597.9,522.4 598.0,523.6 598.2,524.0 598.3,524.6 598.5,525.3 598.6,526.3 598.7,526.3 598.8,526.7 598.9,527.4 599.1,527.8 599.2,528.2 599.3,528.5 599.5,528.9 599.6,529.4 599.6,529.3 599.8,530.0 599.9,530.3 600.1,530.7 600.2,530.7 600.4,530.8 600.4,531.1 600.5,531.4 600.7,531.5 600.8,531.7 601.0,531.7 601.1,532.1 601.3,531.8 601.3,532.0 601.4,532.5 601.5,532.4 601.7,532.6 601.8,532.3 602.0,532.6 602.1,532.7 602.2,532.8 602.3,533.1 602.4,532.9 602.6,533.1 602.7,533.0 602.9,533.2 603.0,533.3 603.1,533.4 603.2,533.5 603.3,533.2 603.5,533.6 603.6,533.6 603.8,533.5 603.9,533.8 604.0,533.6 604.0,533.6 604.2,533.8 604.3,534.0 604.5,533.7 604.6,534.1 604.8,533.9 604.9,533.8 604.9,534.0 605.7,534.1 606.6,534.1 607.5,534.3 608.4,534.6 609.3,534.5 610.1,534.5 611.0,534.7 611.9,534.4 612.8,534.8 613.7,534.9 614.5,534.6 615.4,534.6 616.3,534.7 617.2,534.8 618.1,534.7 618.9,534.8 619.8,534.7 620.7,534.9 621.6,534.9 622.5,534.9 623.4,534.8 624.2,535.0 625.1,534.7 626.0,534.8 626.9,534.9 627.8,535.1 628.6,534.9 629.5,535.0 630.4,535.2 631.3,535.2 632.2,535.2 633.0,534.8 633.9,535.0 634.8,535.0 635.7,535.0 636.6,535.0 637.5,534.9 638.3,535.0 639.2,534.7 640.1,535.1 641.0,535.0 641.9,534.9 642.7,535.2 643.6,535.0 644.5,534.9 645.4,535.0 646.3,535.0 647.1,535.1 648.0,535.0 648.9,535.1 649.8,535.0 650.7,535.1 651.6,535.0 652.4,534.8 653.3,534.8" fill="none" stroke="#CC0000" stroke-width="3.0" stroke-linejoin="round"/>
<path d="M66.5,817.0 67.4,817.5 68.3,816.6 69.1,817.4 70.0,816.9 70.9,816.9 71.8,817.8 72.7,817.1 73.5,817.0 74.4,817.3 75.3,817.4 76.2,817.0 77.1,817.2 78.0,816.6 78.8,816.8 79.7,816.8 80.6,816.5 81.5,816.4 82.4,816.3 83.2,816.9 84.1,816.9 85.0,816.9 85.9,817.0 86.8,816.5 87.6,817.0 88.5,817.1 89.4,817.3 90.3,816.7 91.2,816.8 92.1,816.2 92.9,816.8 93.8,816.1 94.7,816.4 95.6,817.4 96.5,816.1 97.3,817.3 98.2,817.1 99.1,816.9 100.0,817.2 100.9,817.2 101.7,817.4 102.6,816.9 103.5,816.8 104.4,816.8 105.3,816.6 106.1,817.0 107.0,816.7 107.9,817.4 108.8,816.2 109.7,816.6 110.6,816.6 111.4,816.2 112.3,817.8 113.2,816.0 114.1,816.9 115.0,816.8 115.8,817.7 116.7,816.2 117.6,817.4 118.5,816.7 119.4,816.9 120.2,816.7 121.1,817.3 122.0,816.5 122.9,817.0 123.8,817.1 124.7,817.7 125.5,816.0 126.4,817.6 127.3,817.4 128.2,816.8 129.1,817.1 129.9,816.8 130.8,817.7 131.7,817.1 132.6,816.9 133.5,816.9 134.3,816.9 135.2,816.9 136.1,816.6 137.0,817.8 137.9,816.2 138.8,815.6 139.6,816.9 140.5,816.9 141.4,817.1 142.3,816.9 143.2,816.9 144.0,817.1 144.9,817.4 145.8,816.8 146.7,816.8 147.6,817.8 148.4,817.2 149.3,816.6 150.2,817.9 151.1,817.3 152.0,816.8 152.8,816.5 153.7,817.1 154.6,816.7 155.5,816.6 156.4,816.5 157.3,816.8 158.1,817.4 159.0,816.8 159.9,816.4 160.8,817.3 161.7,817.0 162.5,817.3 163.4,817.5 164.3,816.9 165.2,816.9 166.1,817.0 166.9,816.5 167.8,817.3 168.7,817.5 169.6,817.1 170.5,816.9 171.4,816.9 172.2,816.7 173.1,816.7 174.0,816.8 174.9,816.7 175.8,816.8 176.6,816.4 177.5,817.1 178.4,817.0 179.3,816.5 180.2,816.1 181.0,817.0 181.9,817.4 182.8,816.7 183.7,816.8 184.6,816.8 185.4,817.3 186.3,816.6 187.2,817.4 188.1,816.9 189.0,817.4 189.9,817.0 190.7,816.9 191.6,816.4 192.5,816.7 193.4,816.9 194.3,817.3 195.1,817.1 196.0,816.7 196.9,817.2 197.8,817.4 198.7,816.9 199.5,816.8 200.4,816.8 201.3,817.3 202.2,817.2 203.1,816.6 204.0,817.1 204.8,816.8 205.7,816.7 206.6,817.5 207.5,817.3 208.4,816.7 209.2,817.0 210.1,817.2 211.0,816.7 211.9,816.9 212.8,817.2 213.6,816.3 214.5,817.1 215.4,817.3 216.3,817.2 217.2,816.4 218.0,817.1 218.9,816.6 219.8,817.2 220.7,817.2 221.6,817.1 222.5,816.7 223.3,816.7 224.2,817.3 225.1,816.6 226.0,817.2 226.9,817.2 227.7,816.9 228.6,817.9 229.5,817.0 230.4,817.8 231.3,816.2 232.1,816.1 233.0,817.4 233.9,817.2 234.8,816.8 235.7,816.9 236.6,816.2 237.4,816.7 238.3,816.6 239.2,816.9 240.1,817.3 241.0,817.0 241.8,817.1 242.7,816.7 243.6,816.8 244.5,817.0 245.4,816.8 246.2,817.5 247.1,816.6 248.0,817.7 248.9,816.6 249.8,817.4 250.6,816.6 251.5,817.6 252.4,817.0 253.3,817.1 254.2,817.2 255.1,816.6 255.9,816.5 256.8,816.1 257.7,817.3 258.1,816.6 258.3,816.6 258.4,816.8 258.6,817.6 258.7,816.1 258.9,816.9 259.0,816.6 259.2,817.0 259.3,816.1 259.5,816.6 259.6,817.1 259.8,817.4 259.9,817.4 260.0,816.4 260.2,816.7 260.3,816.6 260.5,816.1 260.6,816.1 260.8,816.9 260.9,816.7 261.1,816.5 261.2,817.0 261.4,816.0 261.5,816.6 261.7,816.3 261.8,816.2 262.0,816.3 262.1,816.1 262.3,816.0 262.4,815.8 262.5,816.3 262.7,815.3 262.8,815.6 263.0,815.2 263.1,814.6 263.3,814.8 263.4,813.9 263.6,814.5 263.7,813.5 263.9,813.4 264.0,813.5 264.2,813.6 264.3,813.5 264.5,813.4 264.6,812.9 264.7,812.6 264.9,813.3 265.0,813.4 265.2,813.0 265.3,814.0 265.5,813.9 265.6,813.7 265.8,814.5 265.9,814.0 266.1,814.4 266.2,815.1 266.4,814.6 266.5,815.4 266.7,815.0 266.8,816.0 267.0,815.6 267.1,816.1 267.2,815.5 267.4,816.1 267.5,816.7 267.7,816.5 267.8,815.7 268.0,816.8 268.1,816.9 268.3,816.4 268.4,817.2 268.6,816.2 268.7,816.6 268.9,817.1 269.0,817.2 269.2,817.2 269.3,816.3 269.4,816.0 269.6,816.9 269.7,816.2 269.9,816.7 270.0,816.3 270.2,817.2 270.3,817.1 270.5,817.0 270.6,816.8 270.8,816.8 270.9,816.7 271.1,817.0 271.8,816.9 272.7,817.0 273.6,816.7 274.4,817.6 275.3,817.0 276.2,817.4 277.1,817.4 278.0,816.5 278.8,816.1 278.8,817.3 278.9,816.7 279.1,816.8 279.2,816.7 279.4,816.9 279.5,816.3 279.7,816.7 279.7,816.6 279.8,816.8 279.9,815.8 280.1,817.1 280.2,816.8 280.4,816.0 280.5,816.3 280.6,816.6 280.7,816.8 280.8,816.5 281.0,816.9 281.1,816.3 281.3,815.7 281.4,815.7 281.5,816.1 281.6,815.5 281.7,815.9 281.9,815.7 282.0,815.4 282.1,815.5 282.3,814.9 282.4,815.0 282.4,814.8 282.6,814.9 282.7,814.7 282.9,815.3 283.0,815.3 283.2,815.4 283.3,816.1 283.3,816.3 283.5,816.1 283.6,816.9 283.8,816.9 283.9,817.0 284.1,816.4 284.1,816.0 284.2,816.9 284.4,816.8 284.5,817.0 284.6,816.9 284.8,817.3 284.9,816.6 285.0,817.0 285.1,816.4 285.2,815.9 285.4,816.6 285.5,817.4 285.7,816.1 285.8,817.2 285.9,816.5 286.8,816.6 287.7,816.8 288.5,816.9 289.4,816.4 290.3,816.8 291.2,817.0 292.1,817.1 292.9,816.5 293.8,817.4 294.7,817.5 295.6,817.7 296.5,816.2 297.3,816.7 298.2,815.9 299.1,816.8 300.0,816.8 300.9,816.1 301.8,815.9 302.6,816.5 303.5,816.7 304.4,816.0 305.3,816.2 306.2,815.2 307.0,815.8 307.9,816.0 308.8,815.8 309.7,816.2 310.6,814.8 311.4,814.0 312.3,814.6 313.2,813.6 314.1,813.0 315.0,811.7 315.3,811.1 315.4,811.0 315.6,810.6 315.7,809.0 315.9,809.2 316.0,809.5 316.1,808.0 316.3,807.9 316.4,806.8 316.6,805.9 316.7,805.8 316.9,804.6 317.0,803.0 317.2,802.2 317.3,799.8 317.5,798.4 317.6,797.0 317.8,794.4 317.9,791.2 318.1,788.6 318.2,784.8 318.3,780.9 318.5,775.7 318.6,769.4 318.8,762.7 318.9,755.3 319.1,747.0 319.2,738.6 319.4,728.9 319.5,718.8 319.7,708.6 319.8,699.4 320.0,692.6 320.1,687.2 320.3,685.8 320.4,686.7 320.6,692.0 320.7,700.1 320.8,708.1 321.0,717.7 321.1,728.2 321.3,738.7 321.4,747.7 321.6,755.3 321.7,762.7 321.9,769.5 322.0,774.9 322.2,780.4 322.3,784.6 322.5,787.8 322.6,791.4 322.8,794.2 322.9,796.3 323.0,798.2 323.2,800.7 323.3,802.6 323.5,803.0 323.6,804.0 323.8,805.4 323.9,806.0 324.1,806.5 324.2,808.1 324.4,807.7 324.5,808.4 324.7,808.9 324.8,809.3 325.0,810.0 325.1,810.7 325.2,811.4 325.5,811.7 326.4,812.9 327.3,813.3 328.2,814.4 329.1,814.6 329.9,815.2 330.8,815.9 331.7,815.8 332.6,815.8 333.5,815.8 334.4,816.2 335.2,816.3 336.1,816.0 337.0,816.2 337.9,816.8 338.8,815.9 339.6,816.4 340.5,816.1 341.4,817.2 342.3,816.9 343.2,816.9 344.0,816.9 344.9,816.8 345.8,816.9 346.7,816.1 347.6,816.9 348.5,817.0 349.3,816.2 350.2,817.1 351.1,817.1 352.0,816.2 352.9,816.6 353.7,816.7 354.6,816.6 355.5,817.0 356.4,816.3 357.3,816.7 358.1,816.9 359.0,817.1 359.9,816.8 360.5,816.7 360.6,817.0 360.8,816.0 360.9,817.1 361.1,816.6 361.2,816.2 361.4,816.5 361.5,816.0 361.7,815.8 361.8,816.5 362.0,816.3 362.1,816.8 362.3,816.1 362.4,815.9 362.5,815.9 362.7,816.8 362.8,816.0 363.0,815.5 363.1,815.0 363.3,814.7 363.4,814.7 363.6,814.6 363.7,814.4 363.9,814.1 364.0,813.4 364.2,812.8 364.3,812.7 364.5,812.2 364.6,812.9 364.8,813.8 364.9,813.9 365.0,814.5 365.2,814.2 365.3,815.5 365.5,815.6 365.6,815.7 365.8,816.1 365.9,815.2 366.1,816.1 366.2,816.0 366.4,817.2 366.5,816.5 366.7,816.4 366.8,817.0 367.0,816.3 367.1,817.3 367.2,816.4 367.4,816.7 367.5,816.4 367.7,817.1 367.8,815.9 368.0,817.1 368.1,816.5 368.7,816.9 369.6,816.4 370.5,817.0 371.4,817.0 372.2,817.1 373.1,817.0 374.0,817.2 374.9,817.3 375.8,816.8 376.6,816.5 377.5,816.4 378.4,817.2 379.3,816.8 380.2,817.4 381.1,817.0 381.9,816.5 382.8,817.3 383.7,817.7 384.6,816.9 385.5,816.6 386.3,816.6 387.2,817.3 388.1,816.7 389.0,816.8 389.9,817.2 390.7,817.0 391.6,817.0 392.5,816.7 393.4,816.7 394.3,817.0 395.2,817.0 396.0,817.2 396.9,816.8 397.8,817.1 398.7,817.1 399.6,817.0 400.4,817.2 401.3,817.4 402.2,817.0 403.1,817.0 404.0,816.6 404.8,817.1 405.7,816.9 406.6,816.8 407.5,816.6 408.4,817.2 409.2,818.0 410.1,817.1 411.0,817.0 411.9,817.1 412.8,816.7 413.7,817.0 414.5,816.7 415.4,816.7 416.3,817.0 417.2,817.0 418.1,816.9 418.9,816.6 419.8,817.1 420.7,816.5 421.6,817.3 422.5,816.8 423.3,816.9 424.2,817.2 425.1,817.2 426.0,816.4 426.9,816.8 427.8,817.1 428.6,816.5 429.5,816.0 430.4,816.9 431.3,816.9 432.2,817.1 433.0,816.9 433.9,816.9 434.8,817.0 435.7,817.4 436.6,817.0 437.4,817.0 438.3,816.6 439.2,817.1 440.1,816.5 441.0,816.7 441.8,815.4 442.7,816.0 443.6,815.5 444.5,814.9 445.4,815.0 446.3,814.1 447.1,813.4 448.0,812.8 448.9,813.5 449.8,813.0 450.7,813.2 451.5,813.0 452.4,814.3 453.3,814.4 454.2,814.5 455.1,814.9 455.9,814.5 456.8,815.6 457.7,815.0 458.6,815.8 459.5,815.3 460.4,815.3 461.2,815.7 461.4,815.6 461.5,815.1 461.7,815.5 461.8,815.8 462.0,815.4 462.1,815.0 462.3,815.4 462.4,815.1 462.6,815.3 462.7,815.5 462.8,815.5 463.0,815.4 463.1,814.8 463.3,815.6 463.4,815.4 463.6,815.3 463.7,815.5 463.9,816.2 464.0,814.9 464.2,814.8 464.3,815.7 464.5,815.0 464.6,815.8 464.8,814.9 464.9,815.0 465.1,815.5 465.2,815.5 465.3,815.2 465.5,815.1 465.6,814.8 465.8,814.5 465.9,814.5 466.1,814.9 466.2,814.5 466.4,814.1 466.5,814.0 466.7,814.0 466.8,813.9 467.0,813.1 467.1,812.8 467.3,812.6 467.4,813.2 467.5,811.9 467.7,811.9 467.8,810.5 468.0,811.0 468.1,809.7 468.3,809.5 468.4,809.3 468.6,809.2 468.7,809.0 468.9,808.9 469.0,808.6 469.2,808.3 469.3,809.4 469.5,808.6 469.6,808.8 469.8,809.6 469.9,809.4 470.0,809.6 470.2,809.8 470.3,810.8 470.5,810.1 470.6,810.5 470.8,811.4 470.9,810.9 471.1,811.8 471.2,812.9 471.4,812.7 471.5,813.3 471.7,813.8 471.8,813.3 472.0,814.2 472.1,814.1 472.2,814.1 472.4,814.7 472.5,815.0 472.7,815.0 472.8,815.0 473.0,815.8 473.1,816.0 473.3,815.9 473.4,815.7 473.6,815.5 473.7,815.6 473.9,815.6 474.0,816.2 474.2,816.5 474.3,816.6 474.4,816.2 474.6,816.1 474.7,816.4 474.9,816.4 475.0,816.6 475.2,817.0 475.3,816.2 475.5,817.3 475.6,815.7 475.8,815.8 475.9,815.9 476.1,816.1 476.2,816.5 476.4,817.4 476.5,816.3 476.7,817.0 476.8,816.5 476.9,816.7 477.1,816.2 477.2,817.6 478.0,816.7 478.9,816.5 479.7,817.7 480.6,816.9 481.5,817.0 482.4,816.8 483.3,816.5 484.1,816.3 485.0,816.8 485.9,817.5 486.8,817.1 487.7,816.8 488.5,817.3 489.4,816.6 490.3,817.5 491.2,816.9 492.1,816.6 493.0,817.2 493.8,817.1 494.7,816.8 495.6,817.0 496.5,817.3 497.4,817.5 498.2,816.6 499.1,815.9 500.0,817.8 500.9,816.9 501.8,816.8 502.6,817.1 503.5,816.8 504.4,817.4 505.3,816.5 506.2,816.9 507.1,816.5 507.9,817.6 508.8,816.9 509.7,817.4 510.6,817.5 511.5,816.5 512.3,816.9 513.2,817.3 514.1,817.0 515.0,816.9 515.9,817.3 516.7,817.3 517.6,816.7 518.5,816.9 519.4,817.2 520.3,817.1 521.1,817.0 522.0,816.5 522.9,817.7 523.8,816.9 524.7,817.1 525.6,817.0 526.4,817.0 527.3,817.0 528.2,816.6 529.1,817.1 530.0,817.4 530.8,817.1 531.7,817.2 532.6,817.0 533.5,816.8 534.4,817.4 535.2,816.3 536.1,816.6 537.0,816.7 537.9,816.3 538.8,815.5 539.7,815.3 540.5,816.2 541.4,815.0 542.3,815.2 543.2,815.3 544.1,815.0 544.9,814.3 545.8,814.3 546.7,815.1 547.6,815.0 548.5,815.4 549.3,815.8 550.2,816.0 551.1,815.6 552.0,815.6 552.9,816.8 553.7,816.3 554.6,816.2 555.5,816.0 556.4,817.0 557.3,816.4 558.2,816.5 559.0,817.2 559.9,817.0 560.8,817.1 561.7,816.4 562.6,815.8 563.4,816.5 564.3,816.8 565.2,816.6 566.1,817.3 567.0,817.0 567.8,816.5 568.7,817.1 569.6,816.8 570.5,816.7 571.4,817.3 572.3,816.2 573.1,817.3 574.0,817.3 574.9,816.0 575.8,816.7 576.7,816.7 577.5,816.3 578.4,816.5 579.3,816.4 580.2,816.7 581.1,816.4 581.9,815.8 582.8,817.0 583.7,816.8 584.6,816.1 585.5,816.7 586.3,817.0 586.9,815.5 587.0,815.9 587.2,815.8 587.2,816.2 587.3,815.9 587.5,815.4 587.6,816.4 587.7,815.8 587.9,816.1 588.0,816.7 588.1,815.5 588.2,815.6 588.3,816.1 588.5,815.6 588.6,815.8 588.8,815.6 588.9,816.6 589.0,815.7 589.1,815.6 589.2,815.4 589.4,815.5 589.5,814.6 589.7,815.0 589.8,815.3 589.9,814.5 589.9,815.0 590.1,814.8 590.2,814.5 590.4,815.6 590.5,814.7 590.7,814.4 590.8,813.9 590.8,814.2 591.0,813.8 591.1,813.7 591.3,813.6 591.4,814.3 591.6,813.5 591.6,813.5 591.7,813.2 591.9,813.5 592.0,811.7 592.1,811.0 592.3,811.2 592.4,810.7 592.5,810.4 592.6,809.8 592.7,809.8 592.9,809.6 593.0,808.3 593.2,807.5 593.3,807.3 593.4,806.3 593.5,805.9 593.6,805.3 593.8,803.4 593.9,804.1 594.1,802.4 594.2,801.7 594.3,801.1 594.4,800.7 594.5,799.1 594.6,799.4 594.8,798.0 594.9,797.2 595.1,797.6 595.2,795.5 595.2,796.1 595.4,795.3 595.5,794.5 595.7,795.8 595.8,794.5 596.0,795.4 596.0,795.5 596.1,795.8 596.3,796.0 596.4,797.6 596.6,797.9 596.7,798.2 596.8,799.1 596.9,800.2 597.0,800.1 597.1,801.7 597.3,802.6 597.4,803.1 597.6,803.5 597.7,804.6 597.8,805.7 597.9,805.8 598.0,807.5 598.2,807.4 598.3,808.4 598.5,809.2 598.6,809.6 598.7,809.9 598.8,810.5 598.9,810.6 599.1,811.2 599.2,811.4 599.3,812.8 599.5,812.4 599.6,812.8 599.6,811.5 599.8,812.8 599.9,812.8 600.1,813.5 600.2,813.6 600.4,813.5 600.4,813.9 600.5,814.5 600.7,814.7 600.8,814.2 601.0,815.0 601.1,814.5 601.3,815.1 601.3,814.6 601.4,815.4 601.5,816.0 601.7,815.0 601.8,815.7 602.0,814.7 602.1,815.1 602.2,816.5 602.3,815.4 602.4,815.7 602.6,814.9 602.7,815.6 602.9,815.4 603.0,816.2 603.1,815.5 603.2,816.8 603.3,815.4 603.5,816.0 603.6,815.1 603.8,815.8 603.9,816.5 604.0,815.9 604.0,815.5 604.2,816.2 604.3,816.4 604.5,816.3 604.9,816.6 605.7,815.7 606.6,817.1 607.5,816.8 608.4,815.7 609.3,817.4 610.1,816.5 611.0,816.9 611.9,815.9 612.8,816.5 613.7,816.0 614.5,817.1 615.4,816.7 616.3,816.5 617.2,816.7 618.1,817.3 618.9,816.5 619.8,817.1 620.7,816.4 621.6,816.2 622.5,816.7 623.4,816.8 624.2,817.0 625.1,817.3 626.0,816.8 626.9,816.8 627.8,817.2 628.6,817.1 629.5,816.9 630.4,817.0 631.3,816.1 632.2,816.7 633.0,816.3 633.9,816.8 634.8,817.3 635.7,816.3 636.6,817.3 637.5,816.7 638.3,816.9 639.2,816.8 640.1,817.2 641.0,816.7 641.9,816.1 642.7,817.1 643.6,816.9 644.5,817.2 645.4,817.2 646.3,816.5 647.1,817.1 648.0,817.0 648.9,816.9 649.8,817.0 650.7,817.1 651.6,816.8 652.4,816.9 653.3,817.4" fill="none" stroke="#000" stroke-width="3.0" stroke-linejoin="round"/>
<line x1="320" y1="413" x2="317.6" y2="843" stroke="#00F000" stroke-width="1.9" stroke-dasharray="10.5,2.3"/>
<rect x="66.5" y="11.0" width="587.4" height="841.0" fill="none" stroke="#000" stroke-width="2.2"/>
<line x1="66.5" y1="291.6" x2="653.9" y2="291.6" stroke="#000" stroke-width="2.2"/>
<line x1="66.5" y1="571.8" x2="653.9" y2="571.8" stroke="#000" stroke-width="2.2"/>
<path d="M66.5,291.6V281.1 M139.9,291.6V281.1 M213.3,291.6V281.1 M286.8,291.6V281.1 M360.2,291.6V281.1 M433.6,291.6V281.1 M507.1,291.6V281.1 M580.5,291.6V281.1 M653.9,291.6V281.1 M103.2,291.6V286.40000000000003 M176.6,291.6V286.40000000000003 M250.1,291.6V286.40000000000003 M323.5,291.6V286.40000000000003 M396.9,291.6V286.40000000000003 M470.3,291.6V286.40000000000003 M543.8,291.6V286.40000000000003 M617.2,291.6V286.40000000000003 M66.5,571.8V561.3 M139.9,571.8V561.3 M213.3,571.8V561.3 M286.8,571.8V561.3 M360.2,571.8V561.3 M433.6,571.8V561.3 M507.1,571.8V561.3 M580.5,571.8V561.3 M653.9,571.8V561.3 M103.2,571.8V566.5999999999999 M176.6,571.8V566.5999999999999 M250.1,571.8V566.5999999999999 M323.5,571.8V566.5999999999999 M396.9,571.8V566.5999999999999 M470.3,571.8V566.5999999999999 M543.8,571.8V566.5999999999999 M617.2,571.8V566.5999999999999 M66.5,852.0V841.5 M139.9,852.0V841.5 M213.3,852.0V841.5 M286.8,852.0V841.5 M360.2,852.0V841.5 M433.6,852.0V841.5 M507.1,852.0V841.5 M580.5,852.0V841.5 M653.9,852.0V841.5 M103.2,852.0V846.8 M176.6,852.0V846.8 M250.1,852.0V846.8 M323.5,852.0V846.8 M396.9,852.0V846.8 M470.3,852.0V846.8 M543.8,852.0V846.8 M617.2,852.0V846.8 M66.5,56.0H77.3 M66.5,126.0H77.3 M66.5,196.0H77.3 M66.5,325.5H77.3 M66.5,395.2H77.3 M66.5,464.8H77.3 M66.5,609.4H77.3 M66.5,678.5H77.3 M66.5,748.2H77.3 M66.5,20.5H72.0 M66.5,91.0H72.0 M66.5,161.0H72.0 M66.5,231.0H72.0 M66.5,360.3H72.0 M66.5,430.0H72.0 M66.5,499.7H72.0 M66.5,569.4H72.0 M66.5,575.1H72.0 M66.5,643.6H72.0 M66.5,713.3H72.0 M66.5,783.0H72.0" stroke="#000" stroke-width="2.1" fill="none"/>
<text x="66.5" y="888" text-anchor="middle" font-family="Liberation Serif" font-size="30" font-weight="bold">10</text>
<text x="139.9" y="888" text-anchor="middle" font-family="Liberation Serif" font-size="30" font-weight="bold">20</text>
<text x="213.3" y="888" text-anchor="middle" font-family="Liberation Serif" font-size="30" font-weight="bold">30</text>
<text x="286.8" y="888" text-anchor="middle" font-family="Liberation Serif" font-size="30" font-weight="bold">40</text>
<text x="360.2" y="888" text-anchor="middle" font-family="Liberation Serif" font-size="30" font-weight="bold">50</text>
<text x="433.6" y="888" text-anchor="middle" font-family="Liberation Serif" font-size="30" font-weight="bold">60</text>
<text x="507.1" y="888" text-anchor="middle" font-family="Liberation Serif" font-size="30" font-weight="bold">70</text>
<text x="580.5" y="888" text-anchor="middle" font-family="Liberation Serif" font-size="30" font-weight="bold">80</text>
<text x="653.9" y="888" text-anchor="middle" font-family="Liberation Serif" font-size="30" font-weight="bold">90</text>
<text x="360" y="947" text-anchor="middle" font-family="Liberation Serif" font-size="35.7" font-weight="bold">Diffraction angle 2θ (°)</text>
<text transform="translate(37.8,564) rotate(-90)" font-family="Liberation Serif" font-size="37" font-weight="bold">Intensity (a.u.)</text>
<text x="-1.6" y="35" font-family="Liberation Serif" font-size="50" style="stroke-width:1.1px">(a)</text>
<line x1="71" y1="31.2" x2="128" y2="31.2" stroke="#0A6EFF" stroke-width="2.6" stroke-linecap="round"/>
<text x="135" y="40.3" font-family="Liberation Serif" font-size="24.4" font-weight="bold">TiAlN coating</text>
<line x1="75.5" y1="306.5" x2="131.5" y2="306.5" stroke="#CC0000" stroke-width="2.6" stroke-linecap="round"/>
<text x="138" y="315" font-family="Liberation Serif" font-size="24.4" font-weight="bold">CrAlN coating</text>
<line x1="75.5" y1="590.3" x2="131.5" y2="590.3" stroke="#000" stroke-width="2.6" stroke-linecap="round"/>
<text x="138.5" y="598.8" font-family="Liberation Serif" font-size="24.4" font-weight="bold">CrN coating</text>
<rect x="450.4" y="31.0" width="11.5" height="11.5" fill="#000"/>
<text x="471" y="42.8" font-family="Liberation Serif" font-size="25" font-weight="bold">TiN</text>
<rect x="536.4" y="32.8" width="11" height="11" fill="#fff" stroke="#000" stroke-width="1.3"/>
<text x="557.3" y="44.5" font-family="Liberation Serif" font-size="25" font-weight="bold">Ti(Al)N</text>
<polygon points="447.8,78.4 462.2,78.4 455.0,63.7" fill="#000"/>
<text x="466" y="78.4" font-family="Liberation Serif" font-size="25" font-weight="bold">Substrate</text>
<circle cx="585.1" cy="71.5" r="5.2" fill="#000"/>
<text x="599" y="78.4" font-family="Liberation Serif" font-size="25" font-weight="bold">AlN</text>
<polygon points="457.4,311.5 463.5,318.9 457.4,326.3 451.3,318.9" fill="#000"/>
<text x="467" y="326" font-family="Liberation Serif" font-size="24.2" font-weight="bold">CrN</text>
<polygon points="526.0,324.2 540.8,324.2 533.4,309.8" fill="#000"/>
<text x="544" y="324.2" font-family="Liberation Serif" font-size="25.3" font-weight="bold">Substrate</text>
<polygon points="458.0,590.6 464.1,598.0 458.0,605.4 451.9,598.0" fill="#000"/>
<text x="467.5" y="604.9" font-family="Liberation Serif" font-size="24.2" font-weight="bold">CrN</text>
<polygon points="526.7,603.3 541.5,603.3 534.1,589.2" fill="#000"/>
<text x="545" y="603.3" font-family="Liberation Serif" font-size="25.3" font-weight="bold">Substrate</text>
<rect x="254.1" y="127.5" width="12" height="12" fill="#000"/>
<text transform="translate(270,124) rotate(-90)" font-family="Liberation Serif" font-size="30" font-weight="bold">(111)</text>
<rect x="302.9" y="215.6" width="11.5" height="11.5" fill="#fff" stroke="#000" stroke-width="1.3"/>
<text transform="translate(304,210.5) rotate(-90)" font-family="Liberation Serif" font-size="30" font-weight="bold">(200)</text>
<circle cx="320.5" cy="192.5" r="5.5" fill="#000"/>
<text transform="translate(334,185.5) rotate(-90)" font-family="Liberation Serif" font-size="30" font-weight="bold">(200)</text>
<polygon points="356.4,259.3 371.6,259.3 364.0,245.4" fill="#000"/>
<rect x="445.7" y="244.4" width="12" height="12" fill="#000"/>
<text transform="translate(453.8,240.2) rotate(-90)" font-family="Liberation Serif" font-size="30" font-weight="bold">(220)</text>
<polygon points="463.1,254.0 477.9,254.0 470.5,239.6" fill="#000"/>
<rect x="555.5" y="237.5" width="12" height="12" fill="#000"/>
<text transform="translate(570.5,230.5) rotate(-90)" font-family="Liberation Serif" font-size="30" font-weight="bold">(222)</text>
<polygon points="589.7,247.2 604.7,247.2 597.2,233.3" fill="#000"/>
<polygon points="264.6,509.4 270.8,517.0 264.6,524.6 258.4,517.0" fill="#000"/>
<text transform="translate(274.5,506.3) rotate(-90)" font-family="Liberation Serif" font-size="30" font-weight="bold">(111)</text>
<polygon points="319.8,383.8 325.7,391.3 319.8,398.8 313.9,391.3" fill="#000"/>
<text transform="translate(329.2,377.3) rotate(-90)" font-family="Liberation Serif" font-size="30" font-weight="bold">(200)</text>
<polygon points="356.4,526.8 371.6,526.8 364.0,512.2" fill="#000"/>
<polygon points="448.2,511.1 454.2,518.5 448.2,525.9 442.2,518.5" fill="#000"/>
<text transform="translate(459.3,504) rotate(-90)" font-family="Liberation Serif" font-size="30" font-weight="bold">(220)</text>
<polygon points="462.6,520.5 477.8,520.5 470.2,505.3" fill="#000"/>
<polygon points="589.0,509.1 604.2,509.1 596.6,494.5" fill="#000"/>
<polygon points="264.6,790.7 270.6,798.1 264.6,805.5 258.6,798.1" fill="#000"/>
<text transform="translate(272.5,786.7) rotate(-90)" font-family="Liberation Serif" font-size="30" font-weight="bold">(111)</text>
<polygon points="319.7,666.0 325.7,673.4 319.7,680.8 313.7,673.4" fill="#000"/>
<polygon points="356.4,804.0 371.8,804.0 364.1,789.9" fill="#000"/>
<polygon points="449.6,794.9 455.6,802.3 449.6,809.7 443.6,802.3" fill="#000"/>
<text transform="translate(455.5,792.6) rotate(-90)" font-family="Liberation Serif" font-size="30" font-weight="bold">(220)</text>
<polygon points="461.0,804.0 476.0,804.0 468.5,789.9" fill="#000"/>
<polygon points="589.0,789.1 604.0,789.1 596.5,774.5" fill="#000"/>
<rect x="861.3" y="638.8" width="82.7" height="271.7" fill="#0000FF" stroke="#000" stroke-width="2.05"/>
<rect x="861.3" y="438.0" width="82.7" height="200.8" fill="#0080FF" stroke="#000" stroke-width="2.05"/>
<rect x="965.0" y="713.0" width="83.6" height="197.5" fill="#0000FF" stroke="#000" stroke-width="2.05"/>
<rect x="965.0" y="608.6" width="83.6" height="104.4" fill="#00FF00" stroke="#000" stroke-width="2.05"/>
<rect x="965.0" y="438.0" width="83.6" height="170.6" fill="#0080FF" stroke="#000" stroke-width="2.05"/>
<rect x="1069.7" y="732.8" width="82.8" height="177.7" fill="#8000FF" stroke="#000" stroke-width="2.05"/>
<rect x="1069.7" y="643.1" width="82.8" height="89.8" fill="#00FF00" stroke="#000" stroke-width="2.05"/>
<rect x="1069.7" y="438.0" width="82.8" height="205.1" fill="#0080FF" stroke="#000" stroke-width="2.05"/>
<path d="M902.8,424.5V451.6M896.5999999999999,424.5H909.0M896.5999999999999,451.6H909.0" stroke="#000" stroke-width="2.6" fill="none"/>
<path d="M902.8,627.7V650.7M896.5999999999999,627.7H909.0M896.5999999999999,650.7H909.0" stroke="#000" stroke-width="2.6" fill="none"/>
<path d="M1006.4,425.3V450.9M1000.1999999999999,425.3H1012.6M1000.1999999999999,450.9H1012.6" stroke="#000" stroke-width="2.6" fill="none"/>
<path d="M1006.4,596.0V621.6M1000.1999999999999,596.0H1012.6M1000.1999999999999,621.6H1012.6" stroke="#000" stroke-width="2.6" fill="none"/>
<path d="M1006.4,700.8V727.2M1000.1999999999999,700.8H1012.6M1000.1999999999999,727.2H1012.6" stroke="#000" stroke-width="2.6" fill="none"/>
<path d="M1111.2,423.7V452.0M1105.0,423.7H1117.4M1105.0,452.0H1117.4" stroke="#000" stroke-width="2.6" fill="none"/>
<path d="M1111.2,629.2V656.3M1105.0,629.2H1117.4M1105.0,656.3H1117.4" stroke="#000" stroke-width="2.6" fill="none"/>
<path d="M1111.2,721.1V744.9M1105.0,721.1H1117.4M1105.0,744.9H1117.4" stroke="#000" stroke-width="2.6" fill="none"/>
<polyline points="902.5,329.4 1006.6,70.8 1110.8,392.7" fill="none" stroke="#454545" stroke-width="3.1" stroke-linejoin="round"/>
<path d="M902.4,308.5V350.5M896.1999999999999,308.5H908.6M896.1999999999999,350.5H908.6" stroke="#000" stroke-width="1.5" fill="none"/>
<path d="M1006.6,49.5V92.2M1000.3000000000001,49.5H1012.9M1000.3000000000001,92.2H1012.9" stroke="#FF0000" stroke-width="1.6" fill="none"/>
<path d="M1111.1,372.0V414.1M1104.5,372.0H1117.6999999999998M1104.5,414.1H1117.6999999999998" stroke="#0080FF" stroke-width="2.3" fill="none"/>
<rect x="898.2" y="325.1" width="8.5" height="8.5" fill="#000"/>
<rect x="1002.2" y="66.4" width="8.8" height="8.8" fill="#FF0000"/>
<rect x="1106.6" y="388.9" width="8.8" height="8.3" fill="#0080FF"/>
<rect x="850.7" y="12.4" width="312.3" height="898.1" fill="none" stroke="#000" stroke-width="2.2"/>
<path d="M850.7,910.5H861.3000000000001 M850.7,816.0H861.3000000000001 M850.7,721.5H861.3000000000001 M850.7,627.0H861.3000000000001 M850.7,532.5H861.3000000000001 M850.7,438.0H861.3000000000001 M850.7,343.5H861.3000000000001 M850.7,249.0H861.3000000000001 M850.7,154.5H861.3000000000001 M850.7,60.0H861.3000000000001 M850.7,863.2H856.0 M850.7,768.8H856.0 M850.7,674.2H856.0 M850.7,579.8H856.0 M850.7,485.2H856.0 M850.7,390.8H856.0 M850.7,296.2H856.0 M850.7,201.8H856.0 M850.7,107.2H856.0 M1163.0,65.0H1152.2 M1163.0,223.7H1152.2 M1163.0,382.4H1152.2 M1163.0,541.0H1152.2 M1163.0,699.7H1152.2 M1163.0,858.4H1152.2 M1163.0,144.3H1157.7 M1163.0,303.0H1157.7 M1163.0,461.7H1157.7 M1163.0,620.4H1157.7 M1163.0,779.0H1157.7 M902.4,910.5V900.0 M1006.4,910.5V900.0 M1111.0,910.5V900.0" stroke="#000" stroke-width="2.1" fill="none"/>
<text x="837.8" y="920.5" text-anchor="end" font-family="Liberation Serif" font-size="32" font-weight="bold">0</text>
<text x="837.8" y="826.0" text-anchor="end" font-family="Liberation Serif" font-size="32" font-weight="bold">20</text>
<text x="837.8" y="731.5" text-anchor="end" font-family="Liberation Serif" font-size="32" font-weight="bold">40</text>
<text x="837.8" y="637.0" text-anchor="end" font-family="Liberation Serif" font-size="32" font-weight="bold">60</text>
<text x="837.8" y="542.5" text-anchor="end" font-family="Liberation Serif" font-size="32" font-weight="bold">80</text>
<text x="837.8" y="448.0" text-anchor="end" font-family="Liberation Serif" font-size="32" font-weight="bold">100</text>
<text x="837.8" y="353.5" text-anchor="end" font-family="Liberation Serif" font-size="32" font-weight="bold">120</text>
<text x="837.8" y="259.0" text-anchor="end" font-family="Liberation Serif" font-size="32" font-weight="bold">140</text>
<text x="837.8" y="164.5" text-anchor="end" font-family="Liberation Serif" font-size="32" font-weight="bold">160</text>
<text x="837.8" y="70.0" text-anchor="end" font-family="Liberation Serif" font-size="32" font-weight="bold">180</text>
<text x="1175.5" y="75.0" font-family="Liberation Serif" font-size="32" font-weight="bold">120</text>
<text x="1175.5" y="233.7" font-family="Liberation Serif" font-size="32" font-weight="bold">90</text>
<text x="1175.5" y="392.4" font-family="Liberation Serif" font-size="32" font-weight="bold">60</text>
<text x="1175.5" y="551.0" font-family="Liberation Serif" font-size="32" font-weight="bold">30</text>
<text x="1175.5" y="709.7" font-family="Liberation Serif" font-size="32" font-weight="bold">0</text>
<text x="902.1" y="948.5" text-anchor="middle" font-family="Liberation Serif" font-size="32" font-weight="bold">CrN</text>
<text x="1006.0" y="948.5" text-anchor="middle" font-family="Liberation Serif" font-size="32" font-weight="bold">CrAlN</text>
<text x="1111.0" y="948.5" text-anchor="middle" font-family="Liberation Serif" font-size="32" font-weight="bold">TiAlN</text>
<text transform="translate(765.5,658) rotate(-90)" font-family="Liberation Serif" font-size="40.5" font-weight="bold">Atomic percentage(%)</text>
<text transform="translate(1260.5,599) rotate(-90)" font-family="Liberation Serif" font-size="40" font-weight="bold">Grain size(Å)</text>
<text x="729.5" y="35" font-family="Liberation Serif" font-size="50" style="stroke-width:1.1px">(b)</text>
<rect x="1053.3" y="23.3" width="97.4" height="38.0" fill="#0066FF" stroke="#000" stroke-width="1.6"/>
<rect x="1053.3" y="61.3" width="97.4" height="37.5" fill="#0000FF" stroke="#000" stroke-width="1.6"/>
<rect x="1053.3" y="98.8" width="97.4" height="37.6" fill="#00FF00" stroke="#000" stroke-width="1.6"/>
<rect x="1053.3" y="136.4" width="97.4" height="37.5" fill="#8000FF" stroke="#000" stroke-width="1.6"/>
<text x="1104.5" y="52.1" text-anchor="middle" class="w" font-family="Liberation Serif" font-size="34" fill="#fff">N</text>
<text x="1104.5" y="92.7" text-anchor="middle" class="w" font-family="Liberation Serif" font-size="34" fill="#fff">Cr</text>
<text x="1104.5" y="129.8" text-anchor="middle" class="w" font-family="Liberation Serif" font-size="34" fill="#fff">Al</text>
<text x="1104.5" y="168.7" text-anchor="middle" class="w" font-family="Liberation Serif" font-size="34" fill="#fff">Ti</text>
</svg></body></html>
